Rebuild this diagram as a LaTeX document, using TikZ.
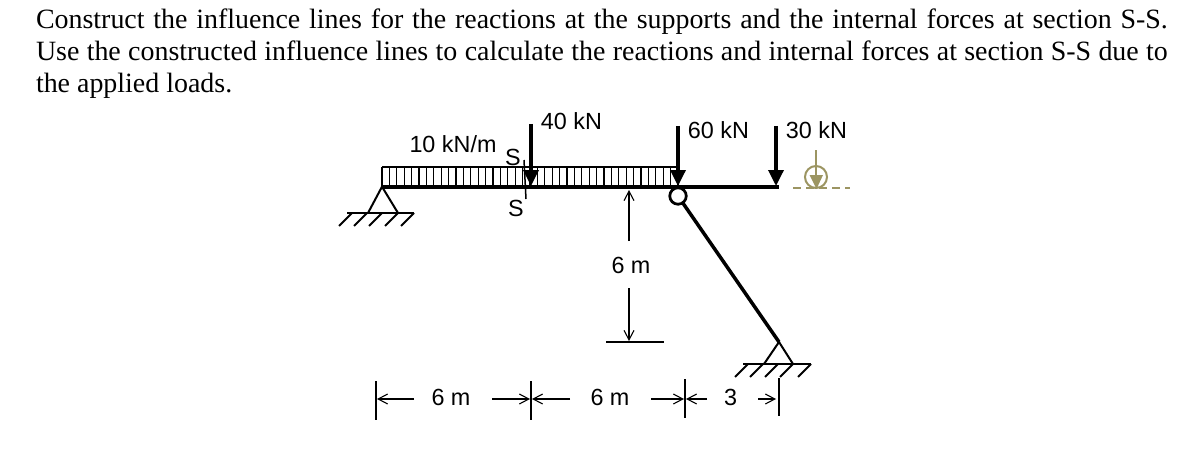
\documentclass[tikz,border=0pt]{standalone}
\usepackage{fontspec}
\setmainfont{Liberation Serif}
\newfontfamily\labelfont{Liberation Sans}
\usetikzlibrary{arrows.meta}
\definecolor{ghost}{HTML}{9C9562}
\tikzset{
  every node/.style={inner sep=0pt,outer sep=0pt},
  beamline/.style={line width=0.075cm},
  memberline/.style={line width=0.07cm},
  loadarrow/.style={line width=0.068cm,-{Triangle[length=0.32cm,width=0.3cm]}},
  thinline/.style={line width=0.03cm},
  gridline/.style={line width=0.024cm},
  supportline/.style={line width=0.04cm},
  dimarrow/.style={line width=0.022cm,-{Straight Barb[length=0.19cm,width=0.2cm]}},
  lbl/.style={font=\labelfont\fontsize{13.3}{16}\selectfont,text=black},
  ghostline/.style={draw=ghost,line width=0.04cm},
}
\begin{document}
\begin{tikzpicture}[x=0.02cm,y=-0.02cm]
\useasboundingbox (0,0) rectangle (1200,456);
% problem statement
\node[anchor=north west,text width=22.64cm,align=justify,font=\fontsize{15.9}{18.2}\selectfont] (statement) at (36,8.5)
  {Construct the influence lines for the reactions at the supports and the internal forces at section S-S.\linebreak Use the constructed influence lines to calculate the reactions and internal forces at section S-S due to\linebreak the applied loads.};
% key points
\coordinate (A) at (382,186.7);
\coordinate (E) at (779,186.7);
\coordinate (B) at (779,342);
% distributed load
\foreach \i in {0,...,40} {\draw[gridline] ({382+7.4*\i},167) -- ({382+7.4*\i},186);}
\draw[gridline] (382,167) -- (678,167);
% beam and member
\draw[beamline] (A) -- (E);
\node[circle,draw,line width=0.055cm,fill=white,minimum size=0.33cm] (hinge) at (678,196) {};
\draw[memberline] (hinge) -- (B);
% left support
\coordinate (gl1) at (347,213); \coordinate (gl2) at (414,213);
\draw[supportline] (368,213) -- (A) -- (398,213);
\draw[supportline] (gl1) -- (gl2);
\foreach \x in {352,367,382,398,414} {\draw[supportline] (\x,213) -- ++(-13,13);}
% right support
\coordinate (gr1) at (743,364); \coordinate (gr2) at (811,364);
\draw[supportline] (764,364) -- (B) -- (793,364);
\draw[supportline] (gr1) -- (gr2);
\foreach \x in {748,763,778,793,811} {\draw[supportline] (\x,364) -- ++(-13,13);}
% section line
\coordinate (s1) at (524,160); \coordinate (s2) at (526,199);
\draw[thinline] (s1) -- (s2);
\node[lbl] (stop) at (513,157) {S};
\node[lbl] (sbot) at (516,208) {S};
% point loads
\coordinate (p1a) at (531,124); \coordinate (p1b) at (531,186);
\coordinate (p2a) at (678,126); \coordinate (p2b) at (678,186);
\coordinate (p3a) at (776,126); \coordinate (p3b) at (776,186);
\draw[loadarrow] (p1a) -- (p1b);
\draw[loadarrow] (p2a) -- (p2b);
\draw[loadarrow] (p3a) -- (p3b);
\node[lbl] (l10) at (453,144) {10 kN/m};
\node[lbl] (l40) at (571.5,121) {40 kN};
\node[lbl] (l60) at (718.5,130) {60 kN};
\node[lbl] (l30) at (816.5,130) {30 kN};
% ghost symbol
\node[circle,ghostline,minimum size=0.44cm] (gc) at (816,177) {};
\coordinate (gt) at (816,150);
\draw[ghostline] (gt) -- (gc.center);
\fill[ghost] (809.5,175) -- (823,175) -- (816.5,189) -- cycle;
\coordinate (gd1) at (793,188); \coordinate (gd2) at (850,188);
\draw[ghostline,dash pattern=on 0.16cm off 0.1cm] (gd1) -- (gd2);
% vertical dimension
\coordinate (base1) at (606,342); \coordinate (base2) at (664,342);
\draw[thinline] (base1) -- (base2);
\node[lbl] (dimv) at (631,265) {6 m};
\coordinate (v1) at (629,241); \coordinate (v2) at (629,190);
\coordinate (v3) at (629,288); \coordinate (v4) at (629,341);
\draw[dimarrow] (v1) -- (v2);
\draw[dimarrow] (v3) -- (v4);
% horizontal dimensions
\coordinate (t1a) at (376,381); \coordinate (t1b) at (376,420);
\coordinate (t2a) at (531,381); \coordinate (t2b) at (531,420);
\coordinate (t3a) at (685,379); \coordinate (t3b) at (685,418);
\coordinate (t4a) at (779,378); \coordinate (t4b) at (779,416);
\draw[thinline] (t1a) -- (t1b);
\draw[thinline] (t2a) -- (t2b);
\draw[thinline] (t3a) -- (t3b);
\draw[thinline] (t4a) -- (t4b);
\node[lbl] (d1) at (451,397) {6 m};
\node[lbl] (d2) at (610,397) {6 m};
\node[lbl] (d3) at (730.5,397) {3};
\coordinate (a1) at (414,399); \coordinate (a1t) at (377,399);
\coordinate (a2) at (492,399); \coordinate (a2t) at (530,399);
\coordinate (a3) at (570,399); \coordinate (a3t) at (532,399);
\coordinate (a4) at (651,399); \coordinate (a4t) at (684,399);
\coordinate (a5) at (707,399); \coordinate (a5t) at (686,399);
\coordinate (a6) at (758,399); \coordinate (a6t) at (776,399);
\draw[dimarrow] (a1) -- (a1t);
\draw[dimarrow] (a2) -- (a2t);
\draw[dimarrow] (a3) -- (a3t);
\draw[dimarrow] (a4) -- (a4t);
\draw[dimarrow] (a5) -- (a5t);
\draw[dimarrow] (a6) -- (a6t);
\end{tikzpicture}
\end{document}
